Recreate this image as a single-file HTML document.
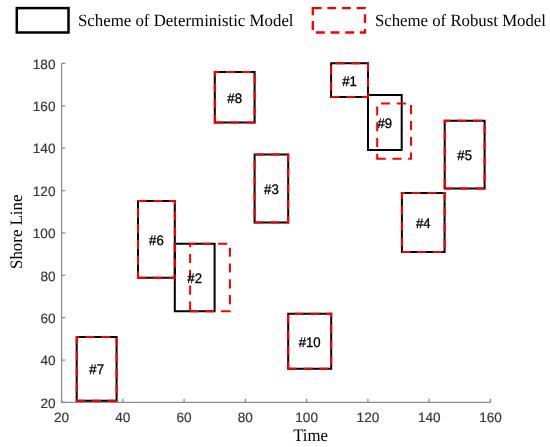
<!DOCTYPE html>
<html><head><meta charset="utf-8"><style>
html,body{margin:0;padding:0;background:#fff;}
body{width:550px;height:447px;overflow:hidden;}
svg{display:block;} text{text-rendering:geometricPrecision;}
.tk{font-family:"Liberation Sans",Arial,sans-serif;font-size:13.6px;fill:#383838;stroke:#383838;stroke-width:0.2px;}
.bl{font-family:"Liberation Sans",Arial,sans-serif;font-size:13.8px;fill:#000;stroke:#000;stroke-width:0.3px;}
.tm{font-family:"Liberation Serif","Times New Roman",serif;fill:#000;}
</style></head><body>
<svg width="550" height="447" viewBox="0 0 550 447">
<rect x="0" y="0" width="550" height="447" fill="#fff"/>

<path d="M61.6,63.39 V402.4 H490.50" fill="none" stroke="#8a8a8a" stroke-width="1.25"/>
<path d="M61.6,402.40 h3.6 M61.6,360.02 h3.6 M61.6,317.65 h3.6 M61.6,275.27 h3.6 M61.6,232.90 h3.6 M61.6,190.52 h3.6 M61.6,148.14 h3.6 M61.6,105.77 h3.6 M61.6,63.39 h3.6 M61.50,402.4 v-3.6 M122.79,402.4 v-3.6 M184.07,402.4 v-3.6 M245.36,402.4 v-3.6 M306.64,402.4 v-3.6 M367.93,402.4 v-3.6 M429.22,402.4 v-3.6 M490.50,402.4 v-3.6" fill="none" stroke="#8a8a8a" stroke-width="1.25"/>
<text class="tk" x="55.5" y="407.70" text-anchor="end">20</text>
<text class="tk" x="55.5" y="365.32" text-anchor="end">40</text>
<text class="tk" x="55.5" y="322.95" text-anchor="end">60</text>
<text class="tk" x="55.5" y="280.57" text-anchor="end">80</text>
<text class="tk" x="55.5" y="238.20" text-anchor="end">100</text>
<text class="tk" x="55.5" y="195.82" text-anchor="end">120</text>
<text class="tk" x="55.5" y="153.44" text-anchor="end">140</text>
<text class="tk" x="55.5" y="111.07" text-anchor="end">160</text>
<text class="tk" x="55.5" y="68.69" text-anchor="end">180</text>
<text class="tk" x="61.50" y="421.9" text-anchor="middle">20</text>
<text class="tk" x="122.79" y="421.9" text-anchor="middle">40</text>
<text class="tk" x="184.07" y="421.9" text-anchor="middle">60</text>
<text class="tk" x="245.36" y="421.9" text-anchor="middle">80</text>
<text class="tk" x="306.64" y="421.9" text-anchor="middle">100</text>
<text class="tk" x="367.93" y="421.9" text-anchor="middle">120</text>
<text class="tk" x="429.22" y="421.9" text-anchor="middle">140</text>
<text class="tk" x="490.50" y="421.9" text-anchor="middle">160</text>
<path d="M331.1,97.0 L368.0,97.0 L368.0,63.2 L331.1,63.2 Z" fill="none" stroke="#000" stroke-width="2.0" stroke-linejoin="miter"/>
<path d="M368.0,149.9 L401.7,149.9 L401.7,94.9 L368.0,94.9 Z" fill="none" stroke="#000" stroke-width="2.0" stroke-linejoin="miter"/>
<path d="M214.8,122.6 L254.6,122.6 L254.6,71.9 L214.8,71.9 Z" fill="none" stroke="#000" stroke-width="2.0" stroke-linejoin="miter"/>
<path d="M444.7,188.4 L484.6,188.4 L484.6,120.8 L444.7,120.8 Z" fill="none" stroke="#000" stroke-width="2.0" stroke-linejoin="miter"/>
<path d="M401.9,252.0 L444.6,252.0 L444.6,192.9 L401.9,192.9 Z" fill="none" stroke="#000" stroke-width="2.0" stroke-linejoin="miter"/>
<path d="M254.6,222.5 L288.2,222.5 L288.2,154.6 L254.6,154.6 Z" fill="none" stroke="#000" stroke-width="2.0" stroke-linejoin="miter"/>
<path d="M138.0,277.7 L174.8,277.7 L174.8,201.1 L138.0,201.1 Z" fill="none" stroke="#000" stroke-width="2.0" stroke-linejoin="miter"/>
<path d="M174.8,311.2 L214.6,311.2 L214.6,243.7 L174.8,243.7 Z" fill="none" stroke="#000" stroke-width="2.0" stroke-linejoin="miter"/>
<path d="M288.2,368.8 L331.2,368.8 L331.2,313.8 L288.2,313.8 Z" fill="none" stroke="#000" stroke-width="2.0" stroke-linejoin="miter"/>
<path d="M76.7,400.8 L116.6,400.8 L116.6,337.0 L76.7,337.0 Z" fill="none" stroke="#000" stroke-width="2.0" stroke-linejoin="miter"/>
<path d="M331.1,97.0 L368.0,97.0 L368.0,63.2 L331.1,63.2 Z" fill="none" stroke="#f60000" stroke-width="2.0" stroke-dasharray="9.1 6.7" stroke-dashoffset="0.6"/>
<path d="M377.2,158.8 L411.0,158.8 L411.0,103.5 L377.2,103.5 Z" fill="none" stroke="#f60000" stroke-width="2.0" stroke-dasharray="9.1 6.7" stroke-dashoffset="0.6"/>
<path d="M214.8,122.6 L254.6,122.6 L254.6,71.9 L214.8,71.9 Z" fill="none" stroke="#f60000" stroke-width="2.0" stroke-dasharray="9.1 6.7" stroke-dashoffset="0.6"/>
<path d="M444.7,188.4 L484.6,188.4 L484.6,120.8 L444.7,120.8 Z" fill="none" stroke="#f60000" stroke-width="2.0" stroke-dasharray="9.1 6.7" stroke-dashoffset="0.6"/>
<path d="M401.9,252.0 L444.6,252.0 L444.6,192.9 L401.9,192.9 Z" fill="none" stroke="#f60000" stroke-width="2.0" stroke-dasharray="9.1 6.7" stroke-dashoffset="0.6"/>
<path d="M254.6,222.5 L288.2,222.5 L288.2,154.6 L254.6,154.6 Z" fill="none" stroke="#f60000" stroke-width="2.0" stroke-dasharray="9.1 6.7" stroke-dashoffset="0.6"/>
<path d="M138.0,277.7 L174.8,277.7 L174.8,201.1 L138.0,201.1 Z" fill="none" stroke="#f60000" stroke-width="2.0" stroke-dasharray="9.1 6.7" stroke-dashoffset="0.6"/>
<path d="M190.1,311.2 L229.9,311.2 L229.9,243.7 L190.1,243.7 Z" fill="none" stroke="#f60000" stroke-width="2.0" stroke-dasharray="9.1 6.7" stroke-dashoffset="0.6"/>
<path d="M288.2,368.8 L331.2,368.8 L331.2,313.8 L288.2,313.8 Z" fill="none" stroke="#f60000" stroke-width="2.0" stroke-dasharray="9.1 6.7" stroke-dashoffset="0.6"/>
<path d="M76.7,400.8 L116.6,400.8 L116.6,337.0 L76.7,337.0 Z" fill="none" stroke="#f60000" stroke-width="2.0" stroke-dasharray="9.1 6.7" stroke-dashoffset="0.6"/>
<text class="bl" transform="translate(349.55,85.50) scale(0.955,1.0)" text-anchor="middle">#1</text>
<text class="bl" transform="translate(384.85,127.80) scale(0.955,1.0)" text-anchor="middle">#9</text>
<text class="bl" transform="translate(234.70,102.65) scale(0.955,1.0)" text-anchor="middle">#8</text>
<text class="bl" transform="translate(464.65,160.00) scale(0.955,1.0)" text-anchor="middle">#5</text>
<text class="bl" transform="translate(423.25,227.85) scale(0.955,1.0)" text-anchor="middle">#4</text>
<text class="bl" transform="translate(271.40,193.95) scale(0.955,1.0)" text-anchor="middle">#3</text>
<text class="bl" transform="translate(156.40,244.80) scale(0.955,1.0)" text-anchor="middle">#6</text>
<text class="bl" transform="translate(194.70,282.85) scale(0.955,1.0)" text-anchor="middle">#2</text>
<text class="bl" transform="translate(309.70,346.70) scale(0.955,1.0)" text-anchor="middle">#10</text>
<text class="bl" transform="translate(96.65,374.30) scale(0.955,1.0)" text-anchor="middle">#7</text>
<rect x="16.8" y="8.1" width="51.7" height="24.4" fill="none" stroke="#000" stroke-width="2.5"/>
<path d="M312.8,8.1 H365 V32.5 H312.8 Z" fill="none" stroke="#f60000" stroke-width="2.3" stroke-dasharray="8.8 5.8"/>
<text class="tm" transform="translate(77.9,25.5) scale(1,1.02)" font-size="16.85">Scheme of Deterministic Model</text>
<text class="tm" transform="translate(374.9,25.5) scale(1,1.02)" font-size="16.8">Scheme of Robust Model</text>
<text class="tm" transform="translate(310.55,440.6) scale(1,1.05)" font-size="16.8" text-anchor="middle">Time</text>
<text class="tm" transform="translate(21.85,231.75) rotate(-90) scale(1,1.03)" x="0" y="0" font-size="16.85" text-anchor="middle">Shore Line</text>
</svg></body></html>
